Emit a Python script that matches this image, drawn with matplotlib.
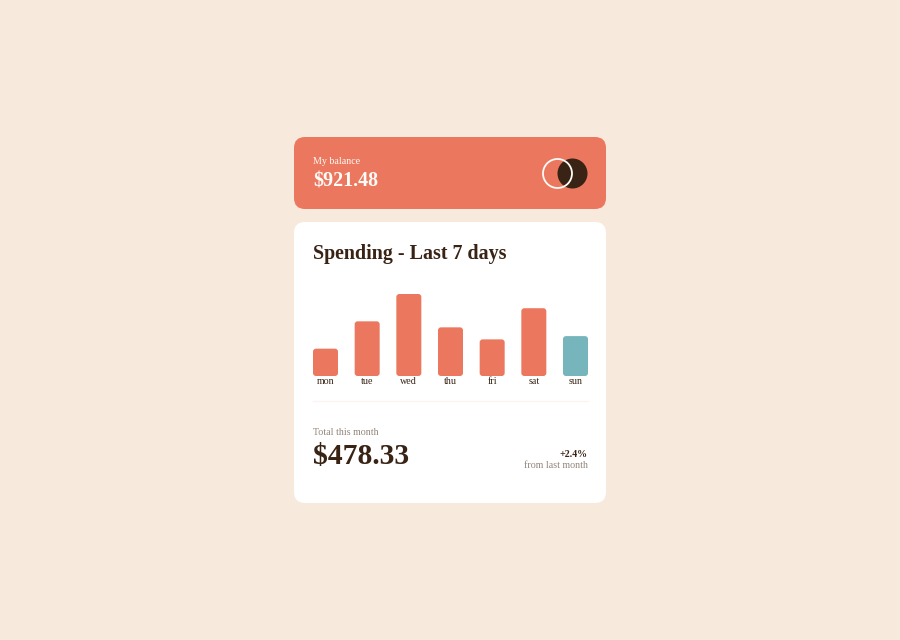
import matplotlib.pyplot as plt
from matplotlib.patches import FancyBboxPatch, Circle

# data
days = ["mon", "tue", "wed", "thu", "fri", "sat", "sun"]
amounts = [17.45, 34.91, 52.36, 31.07, 23.39, 43.28, 25.48]
balance_label = "My balance"
balance = "$921.48"
title = "Spending - Last 7 days"
total_label = "Total this month"
total = "$478.33"
change = "+2.4%"
change_label = "from last month"

BG = "#F8E9DD"
ORANGE = "#EC775F"
CYAN = "#76B5BC"
DARK = "#382314"
MUTED = "#92857A"
CREAM = "#FFFBF6"
FONT = "Liberation Serif"
SMALL = 7.2

W, H = 900, 640
fig = plt.figure(figsize=(W / 100, H / 100), dpi=100, facecolor=BG)

# page axes in pixel coords (y down)
page = fig.add_axes([0, 0, 1, 1])
page.set_xlim(0, W)
page.set_ylim(H, 0)
page.axis("off")

# balance card
page.add_patch(FancyBboxPatch((294, 137), 312, 72,
                              boxstyle="round,pad=0,rounding_size=11",
                              fc=ORANGE, ec="none"))
page.text(313, 164.5, balance_label, color=CREAM, fontsize=SMALL, family=FONT, va="baseline")
page.text(313, 186, balance, color=CREAM, fontsize=14.4, fontweight="bold",
          family=FONT, va="baseline")
page.add_patch(Circle((572.5, 173.5), 15, fc=DARK, ec="none"))
page.add_patch(Circle((557.5, 173.5), 14.5, fc="none", ec=CREAM, lw=1.3))

# spending card
page.add_patch(FancyBboxPatch((294, 222), 312, 281,
                              boxstyle="round,pad=0,rounding_size=11",
                              fc="white", ec="none"))
page.text(313, 259.5, title, color=DARK, fontsize=14.4, fontweight="bold",
          family=FONT, va="baseline")

# divider
page.plot([313, 588], [400.5, 400.5], color="#FAF5F1", lw=1.0)

page.text(313, 435, total_label, color=MUTED, fontsize=SMALL, family=FONT, va="baseline")
page.text(313, 464, total, color=DARK, fontsize=21.3, fontweight="bold",
          family=FONT, va="baseline")
page.text(588, 457.3, change, color=DARK, fontsize=SMALL, fontweight="bold",
          family=FONT, va="baseline", ha="right")
page.text(588, 468.5, change_label, color=MUTED, fontsize=SMALL, family=FONT,
          va="baseline", ha="right")

# bar chart axes: x 313..588, y 294..376 (pixels)
bx0, bx1, by_top, by_bot = 313, 588, 294, 376
bars_ax = fig.add_axes([bx0 / W, 1 - by_bot / H, (bx1 - bx0) / W, (by_bot - by_top) / H])
bars_ax.set_xlim(-0.3, len(days) - 0.7)
bars_ax.set_ylim(0, max(amounts))
bars_ax.axis("off")

colors = [CYAN if d == "sun" else ORANGE for d in days]
bars = bars_ax.bar(range(len(days)), amounts, width=0.6, color=colors)

# swap plain rectangles for rounded ones of the same size
px_x = (bx1 - bx0) / (len(days) - 0.4)
px_y = (by_bot - by_top) / max(amounts)
r = 3.0
for b, c in zip(bars, colors):
    b.set_visible(False)
    bars_ax.add_patch(FancyBboxPatch((b.get_x(), b.get_y()), b.get_width(), b.get_height(),
                                     boxstyle="round,pad=0,rounding_size=%f" % (r / px_x),
                                     mutation_aspect=px_x / px_y,
                                     fc=c, ec="none"))

# day labels, baseline 8px under the bars
for i, d in enumerate(days):
    bars_ax.text(i, -8 / px_y, d, ha="center", va="baseline", family=FONT,
                 fontsize=SMALL, color=DARK, clip_on=False)

fig.savefig("out.png", dpi=100, facecolor=BG)
